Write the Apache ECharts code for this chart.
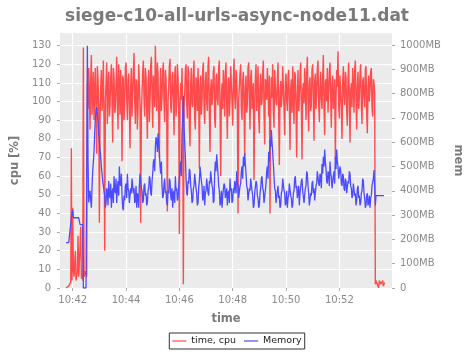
<!DOCTYPE html>
<html>
<head>
<meta charset="utf-8">
<script src="https://cdn.jsdelivr.net/npm/echarts@6/dist/echarts.min.js"></script>
<style>html,body{margin:0;padding:0;background:#fff}#c{width:474px;height:358px}</style>
</head>
<body>
<div id="c"></div>
<script>
// Sampling grid: first sample at 10:41:45, one sample every 1.5 s
var startTime = "10:41:45";
var stepSec = 1.5;

// cpu [%] per sample
var cpu = [
0,0, 0,0, 1,1, 2,3, 75,4, 43,10, 6,14, 20,4, 5,9, 28,6,
7,22, 33,5, 9,4, 129,6, 5,9, 8,6, 110,96, 118,104, 85,112, 125,93,
102,116, 90,105, 118,96, 72,119, 112,98, 35,90, 108,117, 95,104, 122,88, 20,100,
110,121, 88,107, 116,92, 98,113, 120,101, 78,118, 113,94, 96,110, 124,100, 85,120,
108,93, 117,104, 68,114, 112,90, 99,118, 121,102, 90,111, 115,97, 75,108, 118,92,
104,116, 126,100, 88,112, 110,85, 96,120, 119,98, 35,94, 105,116, 122,101, 92,118,
113,96, 80,110, 117,89, 100,119, 124,103, 86,114, 109,97, 130,110, 95,121, 115,88,
70,106, 118,95, 102,116, 121,99, 89,117, 112,93, 41,100, 108,119, 123,97, 94,112,
116,101, 82,114, 119,92, 99,120, 113,96, 29,98, 110,101, 118,94, 2,97, 104,117,
120,100, 91,119, 115,87, 76,110, 118,99, 97,115, 122,91, 85,113, 111,95, 118,103,
64,108, 114,93, 100,117, 121,97, 88,111, 116,100, 95,119, 124,94, 73,107, 112,98,
104,116, 119,90, 86,112, 115,101, 98,118, 122,95, 60,102, 110,96, 117,108, 92,115,
121,98, 80,110, 113,92, 101,119, 118,100, 87,112, 123,103, 96,117, 112,97, 40,101,
108,115, 120,96, 90,111, 116,99, 71,108, 114,94, 99,118, 121,102, 85,113, 117,96,
104,110, 58,97, 112,120, 95,104, 119,92, 83,109, 115,98, 100,116, 122,95, 77,112,
110,101, 118,106, 92,114, 40,98, 113,102, 120,95, 86,117, 116,100, 98,112, 121,93,
66,105, 111,97, 103,119, 118,96, 82,110, 115,101, 95,113, 117,99, 74,107, 112,94,
119,103, 88,116, 114,97, 70,104, 117,95, 101,114, 121,98, 69,106, 110,99, 118,108,
90,115, 124,100, 84,109, 113,95, 98,117, 120,102, 79,111, 115,96, 104,118, 122,99,
89,108, 116,101, 96,113, 125,97, 82,110, 112,100, 118,94, 93,116, 121,102, 86,109,
114,96, 100,112, 69,101, 117,108, 127,98, 91,114, 115,97, 80,110, 119,103, 98,116,
113,95, 87,112, 121,100, 78,106, 110,97, 118,109, 94,117, 122,101, 85,108, 116,96,
102,115, 120,99, 88,111, 113,102, 97,117, 119,94, 83,108, 114,100, 106,116, 118,97,
92,112, 110,105, 2,4, 3,2, 1,0, 4,3, 2,1, 3,4, 1,2, 3
];

// Memory [MB] per sample
var memMB = [
187,187, 187,187, 187,187, 187,187, 289,289, 322,289, 289,289, 289,289, 289,289, 289,289,
289,261, 261,261, 261,261, 0,0, 0,0, 0,0, 997,520, 352,390, 400,360, 330,420,
480,520, 560,640, 700,730, 744,710, 690,640, 600,570, 540,500, 470,440, 420,400, 380,330,
350,410, 400,340, 440,380, 370,430, 330,390, 410,350, 460,400, 390,450, 350,410, 440,380,
500,430, 420,470, 380,330, 320,380, 360,420, 430,370, 470,410, 400,350, 350,410, 390,450,
450,390, 410,350, 360,420, 330,390, 380,330, 420,470, 470,410, 400,350, 360,420, 430,380,
390,340, 350,400, 410,460, 450,390, 380,440, 470,520, 530,480, 580,620, 610,560, 636,590,
560,500, 470,520, 420,370, 380,430, 450,390, 400,350, 340,400, 390,450, 440,380, 360,410,
330,390, 400,350, 460,400, 410,360, 370,420, 450,500, 520,460, 640,700, 790,660, 600,540,
450,390, 380,440, 430,490, 480,420, 400,350, 360,410, 420,470, 470,410, 390,340, 350,410,
440,500, 500,440, 420,360, 370,420, 340,390, 400,450, 450,390, 380,440, 430,480, 480,420,
410,350, 360,470, 520,480, 550,510, 470,420, 400,340, 350,400, 330,380, 380,430, 420,370,
370,410, 340,390, 400,350, 450,400, 410,350, 360,410, 390,440, 440,390, 480,430, 420,370,
370,420, 430,480, 500,450, 540,500, 555,510, 470,420, 410,360, 360,410, 400,450, 450,400,
380,330, 340,390, 390,440, 430,380, 370,330, 340,390, 410,450, 460,410, 400,350, 350,400,
430,480, 500,450, 560,520, 610,580, 650,600, 560,510, 460,410, 400,350, 350,400, 420,370,
380,330, 340,390, 400,450, 450,400, 390,340, 350,400, 330,370, 380,430, 430,380, 370,330,
340,390, 400,450, 460,410, 420,370, 370,420, 340,390, 390,440, 450,400, 400,350, 350,410,
420,480, 470,420, 390,340, 340,390, 380,430, 440,390, 410,360, 360,420, 430,480, 480,430,
420,470, 460,410, 510,470, 540,500, 570,520, 490,440, 430,480, 470,420, 520,470, 460,410,
410,460, 480,430, 540,490, 570,520, 500,450, 450,500, 480,430, 420,470, 460,410, 400,450,
440,390, 390,440, 430,480, 470,420, 410,370, 380,430, 430,380, 390,340, 360,410, 420,370,
380,340, 350,390, 400,450, 440,390, 370,330, 340,380, 390,340, 350,380, 330,370, 380,420,
420,450, 485,420, 340,380, 380,380, 380,380, 380,380, 380,380, 380,380, 380,380, 380
];

// Tick labels
var timeTicks = ["10:42","10:44","10:46","10:48","10:50","10:52"];
var cpuTicks = [0,10,20,30,40,50,60,70,80,90,100,110,120,130];
var memTicks = [0,100,200,300,400,500,600,700,800,900,1000];

function toSec(hm) {
  var p = hm.split(":").map(Number);
  return p[0]*3600 + p[1]*60 + (p[2] || 0);
}
function fmtHM(sec) {
  var h = Math.floor(sec/3600), m = Math.floor((sec%3600)/60);
  return h + ":" + (m < 10 ? "0" + m : m);
}
var t0 = toSec(startTime);
var cpuData = cpu.map(function (v, i) { return [t0 + i*stepSec, v]; });
var memData = memMB.map(function (v, i) { return [t0 + i*stepSec, v]; });
var tickSecs = timeTicks.map(toSec);

var grayTxt = '#8a8a8a';
var nameTxt = '#7a7a7a';
var font = 'DejaVu Sans';
var redC = '#ff4b4b';
var blueC = '#4b4bff';

var chart = echarts.init(document.getElementById('c'), null, {renderer: 'canvas'});
chart.setOption({
  animation: false,
  title: {
    text: 'siege-c10-all-urls-async-node11.dat',
    left: 'center', top: 3,
    textStyle: {fontFamily: font, fontSize: 17, fontWeight: 'bold', color: nameTxt}
  },
  grid: {left: 60, right: 82, top: 33, bottom: 70, show: true, backgroundColor: '#ebebeb', borderWidth: 0},
  legend: {
    top: 333, left: 'center',
    data: ['time, cpu', 'Memory'],
    icon: 'rect',
    borderColor: '#333', borderWidth: 1, borderRadius: 0,
    padding: [3, 3], itemGap: 8, itemWidth: 14, itemHeight: 1.2,
    textStyle: {fontFamily: font, fontSize: 9.5, color: '#222'}
  },
  xAxis: {
    type: 'value',
    min: toSec("10:42") - 28.6, max: toSec("10:42") + 718.5,
    name: 'time', nameLocation: 'middle', nameGap: 25,
    nameTextStyle: {fontFamily: font, fontSize: 11.5, fontWeight: 'bold', color: nameTxt},
    axisLine: {show: false},
    axisTick: {show: true, length: 3, lineStyle: {color: '#aaa'}, customValues: tickSecs},
    axisLabel: {customValues: tickSecs, formatter: function (v) { return fmtHM(v); }, margin: 7,
      fontFamily: font, fontSize: 10, color: grayTxt},
    splitLine: {show: true, lineStyle: {color: '#fff', width: 1}}
  },
  yAxis: [{
    type: 'value', min: 0, max: 136.8,
    name: 'cpu [%]', nameLocation: 'middle', nameGap: 28, nameRotate: 90,
    nameTextStyle: {fontFamily: font, fontSize: 11.5, fontWeight: 'bold', color: nameTxt},
    axisLine: {show: false},
    axisTick: {show: true, length: 3, lineStyle: {color: '#aaa'}, customValues: cpuTicks},
    axisLabel: {customValues: cpuTicks, margin: 9, fontFamily: font, fontSize: 10, color: grayTxt},
    splitLine: {show: true, lineStyle: {color: '#fff', width: 1}}
  }, {
    type: 'value', min: 0, max: 1049, position: 'right',
    name: 'mem', nameLocation: 'middle', nameGap: 54, nameRotate: -90,
    nameTextStyle: {fontFamily: font, fontSize: 11.5, fontWeight: 'bold', color: nameTxt},
    axisLine: {show: false},
    axisTick: {show: true, length: 3, lineStyle: {color: '#aaa'}, customValues: memTicks},
    axisLabel: {customValues: memTicks, margin: 8, fontFamily: font, fontSize: 10, color: grayTxt,
      formatter: function (v) { return v === 0 ? '0' : v + 'MB'; }},
    splitLine: {show: false}
  }],
  series: [{
    name: 'time, cpu', type: 'line', yAxisIndex: 0, data: cpuData,
    symbol: 'none', lineStyle: {width: 1.4, color: redC},
    itemStyle: {color: redC}
  }, {
    name: 'Memory', type: 'line', yAxisIndex: 1, data: memData,
    symbol: 'none', lineStyle: {width: 1.3, color: blueC},
    itemStyle: {color: blueC}
  }]
});
</script>
</body>
</html>
